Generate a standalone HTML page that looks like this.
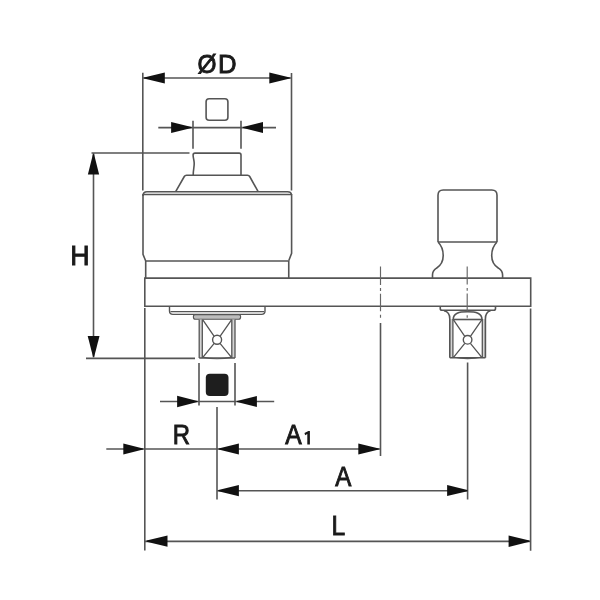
<!DOCTYPE html>
<html><head><meta charset="utf-8">
<style>
html,body{margin:0;padding:0;background:#fff;}
svg{display:block;will-change:transform;}
text{font-family:"Liberation Sans",sans-serif;fill:#1a1a1a;stroke:#1a1a1a;stroke-width:0.9;}
</style></head>
<body>
<svg width="600" height="600" viewBox="0 0 600 600">
<rect width="600" height="600" fill="#fff"/>

<g fill="none" stroke="#555" stroke-width="1.6">
<!-- ØD ext lines -->
<path d="M142.8,72.7V190.5 M291.5,72.9V190.5"/>
<path d="M143,78H291.5"/>
<!-- drive dim -->
<path d="M193,120.8V148.7 M241,120.8V148.7"/>
<path d="M158.3,127.6H276"/>
<!-- square symbol -->
<rect x="206.1" y="98.8" width="21.8" height="21.4" rx="3" stroke-width="1.6"/>
<!-- H -->
<path d="M91.5,153H189.5"/>
<path d="M93.5,153V357.5"/>
<path d="M86,358.4H195"/>
<!-- square drive -->
<path d="M193.2,175.3 C193.1,170 194.4,167 194.2,163 C194,159.5 193.1,158 193.1,155 Q193.1,153.1 195,153.1 H239.2 Q241,153.1 241,155 V175.3"/>
<!-- taper -->
<path d="M175.8,191.4 L184.3,176.5 Q185,175.3 186.5,175.3 H247.5 Q249,175.3 249.7,176.5 L258,191.4"/>
<!-- body -->
<path d="M143,196 Q143,191.75 147,191.75 H287.5 Q291.4,191.75 291.4,195"/>
<path d="M143,194.5 H291.4"/>
<path d="M143,194 V254.3 L145.7,261 M291.6,194 V253.3 L288.75,260.8"/>
<path d="M145.7,261 H288.75"/>
<path d="M145.7,261 V278 M288.75,261 V278"/>
<!-- lever -->
<path d="M144.8,278.1 H530.7 V306.3 H144.8 Z"/>
<!-- left flange -->
<path d="M169.5,306 V311 Q169.5,314.4 173,314.4 H261.5 Q265,314.4 265,311 V306" stroke-width="1.4"/>
<path d="M170.5,311.6 H264" stroke-width="1.2"/>
<!-- plate -->
<rect x="193.4" y="314.6" width="47.2" height="4.6" rx="2" fill="#bdbdbd" stroke-width="1.1"/>
<!-- left socket -->
<path d="M199.2,319.6 H202.3 V358 H199.2 Z M231.8,319.6 H235 V358 H231.8 Z" fill="#d4d4d4" stroke="none"/>
<path d="M199.2,319.6 V358 M235,319.6 V358 M202.3,319.6 V358 M231.8,319.6 V358" stroke-width="1.3"/>
<path d="M199.2,358 H235"/>
<path d="M202.3,357.2 Q217,360.3 231.8,357.2" stroke-width="1.2"/>
<path d="M202.8,319.8 L214.2,336.3 M231.5,319.8 L220,336.3 M214.2,343.3 L202.8,357.4 M220,343.3 L231.5,357.4" stroke-width="1.3"/>
<circle cx="217.1" cy="339.8" r="4.5" stroke-width="1.4"/>
<!-- right socket top -->
<path d="M438,242 V195.2 Q438,190 443.2,190 H491.8 Q497,190 497,195.2 V242"/>
<path d="M438,242 H497"/>
<path d="M438,242 C441.5,245.5 443.2,249.5 443.2,255.5 C443.2,262 440,266 436.5,268.2 C433.5,270.2 432.5,272 432.5,275 V278"/>
<path d="M497,242 C493.5,245.5 491.7,249.5 491.7,255.5 C491.7,262 494.9,266 498.5,268.2 C501.5,270.2 502.6,272 502.6,275 V278"/>
<!-- right socket bottom -->
<path d="M449.8,319 H452.9 V357.7 H449.8 Z M482.3,319 H485.4 V357.7 H482.3 Z" fill="#d4d4d4" stroke="none"/>
<path d="M440.25,306 V308.5 Q440.25,310.3 442,310.3 H493.7 Q495.5,310.3 495.5,308.5 V306"/>
<path d="M444,310.8 C447.5,311.5 449.8,314 449.8,319 V357.7 M490.5,310.8 C487.5,311.5 485.4,314 485.4,319 V357.7"/>
<path d="M452.9,319 V357.7 M482.3,319 V357.7" stroke-width="1.3"/>
<path d="M453.2,319.5 C453.2,313 459,311.8 467.5,311.8 C476,311.8 482,313 482,319.5"/>
<path d="M453.2,319.5 H482.2"/>
<path d="M449.8,357.7 H485.4"/>
<path d="M452.9,357 Q467.5,360.3 482.3,357" stroke-width="1.2"/>
<path d="M453.5,319.8 L464.8,336.3 M481.8,319.8 L470.4,336.3 M464.8,343.3 L453.5,357.4 M470.4,343.3 L481.8,357.4" stroke-width="1.3"/>
<circle cx="467.6" cy="339.8" r="4.3" stroke-width="1.4"/>
</g>
<!-- center lines -->
<g fill="none" stroke="#666" stroke-width="1.15">
<path d="M380.5,266.4 V285 M380.5,288 V291 M380.5,293.8 V311.3 M380.5,314.8 V317.8"/>
<path d="M467.2,266.5 V284.5 M467.2,288 V290.8 M467.2,293.5 V311.5 M467.2,315.2 V317.8"/>
</g>
<!-- extension / dimension lines -->
<g fill="none" stroke="#555" stroke-width="1.6">
<path d="M199,363 V405.4 M235,363 V405.4"/>
<path d="M160,401.5 H274.2"/>
<path d="M144.8,308 V550.5 M530.6,308.5 V550.7"/>
<path d="M217,407 V499.6"/>
<path d="M380.5,323 V456"/>
<path d="M467.6,362.5 V499.5"/>
<path d="M106.3,449 H380.5"/>
<path d="M217,490.75 H467.6"/>
<path d="M145,541.4 H530.6"/>
</g>
<g fill="#1e1e1e" stroke="none">
<rect x="205.8" y="373.8" width="22.7" height="22.2" rx="4"/>
</g>
<g fill="#111" stroke="none">
<path d="M144.00,77.40 L164.80,72.40 L164.80,83.60 L144.00,78.60 Z"/>
<path d="M289.90,77.40 L269.30,72.50 L269.30,83.50 L289.90,78.60 Z"/>
<path d="M191.50,126.90 L171.10,122.10 L171.10,132.90 L191.50,128.10 Z"/>
<path d="M243.00,126.90 L263.00,122.10 L263.00,132.90 L243.00,128.10 Z"/>
<path d="M92.90,154.30 L87.90,174.50 L99.10,174.50 L94.10,154.30 Z"/>
<path d="M93.00,356.80 L87.70,336.10 L99.50,336.10 L94.20,356.80 Z"/>
<path d="M197.40,400.90 L177.10,395.75 L177.10,407.25 L197.40,402.10 Z"/>
<path d="M237.00,400.90 L256.90,395.90 L256.90,407.10 L237.00,402.10 Z"/>
<path d="M143.10,448.40 L123.30,443.50 L123.30,454.50 L143.10,449.60 Z"/>
<path d="M218.60,448.40 L238.90,443.40 L238.90,454.60 L218.60,449.60 Z"/>
<path d="M378.90,448.40 L358.30,443.50 L358.30,454.50 L378.90,449.60 Z"/>
<path d="M218.40,490.00 L238.90,485.00 L238.90,496.20 L218.40,491.20 Z"/>
<path d="M467.40,490.00 L447.10,485.10 L447.10,496.10 L467.40,491.20 Z"/>
<path d="M146.60,540.60 L167.50,535.60 L167.50,546.80 L146.60,541.80 Z"/>
<path d="M529.40,540.60 L508.60,535.45 L508.60,546.95 L529.40,541.80 Z"/>
</g>
<text transform="translate(206.9,72.6) scale(0.92,1)" font-size="26.5" text-anchor="middle">Ø</text>
<text transform="translate(227.4,72.6) scale(0.97,1)" font-size="26.5" text-anchor="middle">D</text>
<text transform="translate(80,265) scale(0.98,1)" font-size="27.3" text-anchor="middle">H</text>
<text transform="translate(181.5,444.2) scale(0.87,1)" font-size="27.5" text-anchor="middle">R</text>
<text transform="translate(293.5,444.1) scale(0.92,1)" font-size="26.8" text-anchor="middle">A</text>
<path d="M304.5,433.1 L308.4,431 H309.9 V444.6 H307.3 V434.1 L305.1,435.2 Z" fill="#1a1a1a"/>
<text transform="translate(343.3,486.1) scale(0.9,1)" font-size="26.8" text-anchor="middle">A</text>
<text transform="translate(338.4,534.6) scale(0.88,1)" font-size="28" text-anchor="middle">L</text>

</svg>
</body></html>
